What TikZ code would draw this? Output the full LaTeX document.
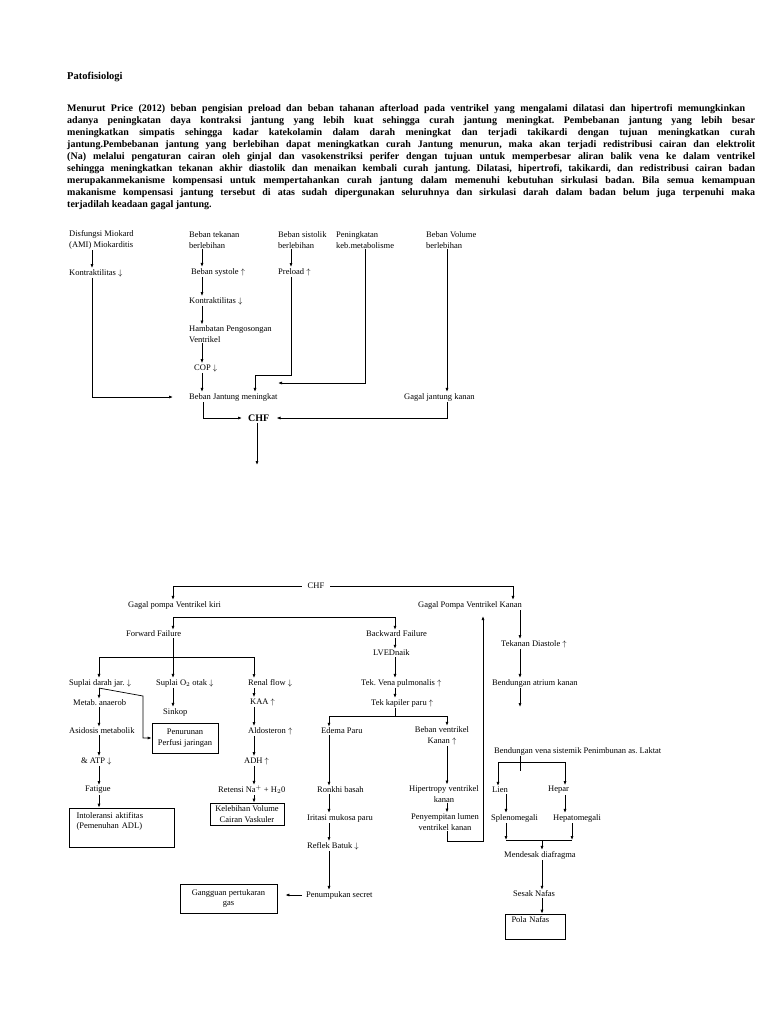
\documentclass[tikz,border=0pt]{standalone}
\usepackage{fontspec}
\setmainfont{Liberation Serif}
\usetikzlibrary{arrows.meta,calc}
\frenchspacing
\tikzset{
  lbl/.style={anchor=west, inner sep=1pt, font=\fontsize{8.5}{10.5}\selectfont, align=left},
  clbl/.style={inner sep=1pt, font=\fontsize{8.5}{10.5}\selectfont, align=center},
  boxed/.style={draw, line width=0.7pt, inner xsep=5pt, inner ysep=2pt, font=\fontsize{8.5}{10.5}\selectfont},
  arr/.style={-{Latex[length=4pt,width=3pt]}, line width=0.7pt},
  ln/.style={line width=0.7pt},
  para/.style={anchor=base west, inner sep=0pt, font=\fontsize{10}{12}\selectfont\bfseries},
}
\newcommand{\up}{$\uparrow$}
\newcommand{\dn}{$\downarrow$}
\begin{document}
\begin{tikzpicture}[x=1pt,y=-1pt]
\fill[white] (0,0) rectangle (768,1024);
\path[use as bounding box] (0,0) rectangle (768,1024);

% title and paragraph
\node[para, font=\fontsize{10.5}{12}\selectfont\bfseries] (title) at (67,80) {Patofisiologi};
\node[para] (p1) at (67,112) {\makebox[678pt][s]{Menurut Price (2012) beban pengisian preload dan beban tahanan afterload pada ventrikel yang mengalami dilatasi dan hipertrofi memungkinkan}};
\node[para] (p2) at (67,124) {\makebox[688pt][s]{adanya peningkatan daya kontraksi jantung yang lebih kuat sehingga curah jantung meningkat. Pembebanan jantung yang lebih besar}};
\node[para] (p3) at (67,136) {\makebox[688pt][s]{meningkatkan simpatis sehingga kadar katekolamin dalam darah meningkat dan terjadi takikardi dengan tujuan meningkatkan curah}};
\node[para] (p4) at (67,148) {\makebox[688pt][s]{jantung.Pembebanan jantung yang berlebihan dapat meningkatkan curah Jantung menurun, maka akan terjadi redistribusi cairan dan elektrolit}};
\node[para] (p5) at (67,160) {\makebox[688pt][s]{(Na) melalui pengaturan cairan oleh ginjal dan vasokenstriksi perifer dengan tujuan untuk memperbesar aliran balik vena ke dalam ventrikel}};
\node[para] (p6) at (67,172) {\makebox[688pt][s]{sehingga meningkatkan tekanan akhir diastolik dan menaikan kembali curah jantung. Dilatasi, hipertrofi, takikardi, dan redistribusi cairan badan}};
\node[para] (p7) at (67,184) {\makebox[688pt][s]{merupakanmekanisme kompensasi untuk mempertahankan curah jantung dalam memenuhi kebutuhan sirkulasi badan. Bila semua kemampuan}};
\node[para] (p8) at (67,196) {\makebox[688pt][s]{makanisme kompensasi jantung tersebut di atas sudah dipergunakan seluruhnya dan sirkulasi darah dalam badan belum juga terpenuhi maka}};
\node[para] (p9) at (67,208) {terjadilah keadaan gagal jantung.};

% column coordinates
\foreach \c in {92,99,143,173,202,203,254,255,291,329,365,395,447,483,498,506,513,520,542,565,572}
  \coordinate (x\c) at (\c,0);

% ===== top diagram =====
\node[lbl] (t1) at (68,240) {Disfungsi Miokard\\(AMI) Miokarditis};
\node[lbl] (t2) at (188,240) {Beban tekanan\\berlebihan};
\node[lbl] (t3) at (277,240) {Beban sistolik\\berlebihan};
\node[lbl] (t4) at (335,240) {Peningkatan\\keb.metabolisme};
\node[lbl] (t5) at (425,240) {Beban Volume\\berlebihan};
\node[lbl] (k1) at (68,273) {Kontraktilitas \dn};
\node[lbl] (bs) at (190,272) {Beban systole \up};
\node[lbl] (pl) at (277,272) {Preload \up};
\node[lbl] (k2) at (188,301) {Kontraktilitas \dn};
\node[lbl] (hp) at (188,334) {Hambatan Pengosongan\\Ventrikel};
\node[lbl] (cop) at (193,368) {COP \dn};
\node[lbl] (bj) at (188,397) {Beban Jantung meningkat};
\node[lbl] (gjk) at (403,397) {Gagal jantung kanan};
\node[lbl, font=\fontsize{10}{12}\selectfont\bfseries] (chfa) at (247,418) {CHF};
\coordinate (p255) at (255,375);
\coordinate (m278) at (278,383);
\coordinate (chfout) at (257,465);

\draw[arr] (t1.south -| x92) -- (k1.north -| x92);
\draw[arr] (t2.south -| x202) -- (bs.north -| x202);
\draw[arr] (bs.south -| x202) -- (k2.north -| x202);
\draw[arr] (k2.south -| x202) -- (hp.north -| x202);
\draw[arr] (hp.south -| x202) -- (cop.north -| x202);
\draw[arr] (cop.south -| x202) -- (bj.north -| x202);
\draw[arr] (t3.south -| x291) -- (pl.north -| x291);
\draw[arr, shorten >=15pt] (k1.south -| x92) |- (bj.west);
\draw[arr] (pl.south -| x291) |- (p255) -- (bj.north -| p255);
\draw[arr] (t4.south -| x365) |- (m278);
\draw[arr] (t5.south -| x447) -- (gjk.north -| x447);
\draw[arr, shorten >=5pt] (bj.south -| x203) |- (chfa.west);
\draw[arr, shorten >=6pt] (gjk.south -| x447) |- (chfa.east);
\draw[arr] (chfa.south -| chfout) -- (chfout);

% ===== bottom diagram =====
\node[clbl] (chfb) at (316,586) {CHF};
\node[lbl] (gl) at (127,605) {Gagal pompa Ventrikel kiri};
\node[lbl] (gr) at (417,605) {Gagal Pompa Ventrikel Kanan};
\node[lbl] (ff) at (125,634) {Forward Failure};
\node[lbl] (bf) at (365,634) {Backward Failure};
\node[lbl] (lv) at (372,653) {LVEDnaik};
\node[lbl] (sd) at (68,683) {Suplai darah jar. \dn};
\node[lbl] (so) at (155,683) {Suplai O$_2$ otak \dn};
\node[lbl] (rf) at (247,683) {Renal flow \dn};
\node[lbl] (tvp) at (360,683) {Tek. Vena pulmonalis \up};
\node[lbl] (ma) at (72,703) {Metab. anaerob};
\node[lbl] (sk) at (162,712) {Sinkop};
\node[lbl] (kaa) at (249,702) {KAA \up};
\node[lbl] (tkp) at (370,703) {Tek kapiler paru \up};
\node[lbl] (asd) at (68,731) {Asidosis metabolik};
\node[boxed, align=center, minimum width=66pt, minimum height=30pt] (ppj) at (185,738) {Penurunan\\Perfusi jaringan};
\node[lbl] (ald) at (247,731) {Aldosteron \up};
\node[lbl] (ep) at (320,731) {Edema Paru};
\node[clbl] (bvk) at (442,736) {Beban ventrikel\\Kanan \up};
\node[lbl] (atp) at (80,761) {\& ATP \dn};
\node[lbl] (adh) at (243,761) {ADH \up};
\node[lbl] (fat) at (84,790) {Fatigue};
\node[lbl] (ret) at (217,790) {Retensi Na$^+$ + H$_2$0};
\node[lbl] (rb) at (316,790) {Ronkhi basah};
\node[clbl] (hvk) at (444,794) {Hipertropy ventrikel\\kanan};
\node[boxed, align=center, minimum width=74pt, minimum height=22pt, inner xsep=2pt] (kvc) at (247,814) {Kelebihan Volume\\Cairan Vaskuler};
\node[boxed, align=left, text width=90pt, minimum width=105pt, minimum height=39pt] (ia) at (121.5,827.5) {Intoleransi aktifitas\\(Pemenuhan ADL)\\\strut};
\node[lbl] (ims) at (306,818) {Iritasi mukosa paru};
\node[clbl] (pl2) at (445,822) {Penyempitan lumen\\ventrikel kanan};
\node[lbl] (rbat) at (306,846) {Reflek Batuk \dn};
\node[boxed, align=center, minimum width=97pt, minimum height=29pt] (ggp) at (228.5,898.5) {Gangguan pertukaran\\gas};
\node[lbl] (ps) at (305,895) {Penumpukan secret};
\node[lbl] (td) at (500,644) {Tekanan Diastole \up};
\node[lbl] (ba) at (491,683) {Bendungan atrium kanan};
\node[lbl] (bvs) at (493,751) {Bendungan vena sistemik Penimbunan as. Laktat};
\node[lbl] (lien) at (491,790) {Lien};
\node[lbl] (hep) at (547,790) {Hepar};
\node[lbl] (spl) at (490,818) {Splenomegali};
\node[lbl] (hpt) at (552,818) {Hepatomegali};
\node[lbl] (md) at (503,855) {Mendesak diafragma};
\node[lbl] (sn) at (512,894) {Sesak Nafas};
\node[boxed, align=left, text width=48pt, minimum width=59pt, minimum height=25pt, inner xsep=6pt] (pn) at (535.5,926.5) {Pola Nafas\\\strut};

\coordinate (ffs) at (173,617);
\coordinate (fsplit) at (173,657);
\coordinate (f99) at (99,657);
\coordinate (f254) at (254,657);
\coordinate (d143) at (143,696);
\coordinate (t395) at (395,716);
\coordinate (t329) at (329,716);
\coordinate (t447) at (447,716);
\coordinate (r483) at (483,841);
\coordinate (ba520) at (520,707);
\coordinate (s520) at (520,771);
\coordinate (h498) at (498,762);
\coordinate (h565) at (565,762);
\coordinate (j506) at (506,840);
\coordinate (j572) at (572,840);
\coordinate (j542) at (542,840);

\draw[arr, shorten <=5pt] (chfb.west) -| (gl.north -| x173);
\draw[arr, shorten <=5pt] (chfb.east) -| (gr.north -| x513);
\draw[arr] (ffs) -- (ff.north -| x173);
\draw[arr] (ffs) -| (bf.north -| x395);
\draw[arr] (bf.south -| x395) -- (lv.north -| x395);
\draw[arr] (lv.south -| x395) -- (tvp.north -| x395);
\draw[arr] (tvp.south -| x395) -- (tkp.north -| x395);
\draw[ln] (ff.south -| x173) -- (fsplit);
\draw[ln] (f99) -- (f254);
\draw[arr] (f99) -- (sd.north -| x99);
\draw[arr] (fsplit) -- (so.north -| x173);
\draw[arr] (f254) -- (rf.north -| x254);
\draw[arr] (sd.south -| x99) -- (ma.north -| x99);
\draw[arr] (sd.south -| x99) -- (d143) |- (ppj.west);
\draw[arr] (ma.south -| x99) -- (asd.north -| x99);
\draw[arr] (asd.south -| x99) -- (atp.north -| x99);
\draw[arr] (atp.south -| x99) -- (fat.north -| x99);
\draw[arr] (fat.south -| x99) -- (ia.north -| x99);
\draw[arr] (so.south -| x173) -- (sk.north -| x173);
\draw[arr] (rf.south -| x254) -- (kaa.north -| x254);
\draw[arr] (kaa.south -| x254) -- (ald.north -| x254);
\draw[arr] (ald.south -| x254) -- (adh.north -| x254);
\draw[arr] (adh.south -| x254) -- (ret.north -| x254);
\draw[arr] (ret.south -| x254) -- (kvc.north -| x254);
\draw[ln] (tkp.south -| x395) -- (t395);
\draw[ln] (t329) -- (t447);
\draw[arr] (t329) -- (ep.north -| x329);
\draw[arr] (t447) -- (bvk.north -| x447);
\draw[arr] (ep.south -| x329) -- (rb.north -| x329);
\draw[arr] (rb.south -| x329) -- (ims.north -| x329);
\draw[arr] (ims.south -| x329) -- (rbat.north -| x329);
\draw[arr] (rbat.south -| x329) -- (ps.north -| x329);
\draw[arr, shorten <=3pt, shorten >=8pt] (ps.west) -- (ps.west -| ggp.east);
\draw[arr] (bvk.south -| x447) -- (hvk.north -| x447);
\draw[arr] (hvk.south -| x447) -- (pl2.north -| x447);
\draw[arr, shorten >=6pt] (pl2.south -| x447) |- (r483) -- (gr.south -| r483);
\draw[arr] (gr.south -| x520) -- (td.north -| x520);
\draw[arr] (td.south -| x520) -- (ba.north -| x520);
\draw[arr] (ba.south -| x520) -- (ba520);
\draw[ln] (bvs.south -| x520) -- (s520);
\draw[ln] (h498) -- (h565);
\draw[arr] (h498) -- (lien.north -| h498);
\draw[arr] (h565) -- (hep.north -| h565);
\draw[arr] (lien.south -| x506) -- (spl.north -| x506);
\draw[arr] (hep.south -| x565) -- (hpt.north -| x565);
\draw[arr] (spl.south -| x506) -- (j506);
\draw[arr] (hpt.south -| x572) -- (j572);
\draw[ln] (j506) -- (j572);
\draw[arr] (j542) -- (md.north -| j542);
\draw[arr] (md.south -| x542) -- (sn.north -| x542);
\draw[arr] (sn.south -| x542) -- (pn.north -| x542);
\end{tikzpicture}
\end{document}
